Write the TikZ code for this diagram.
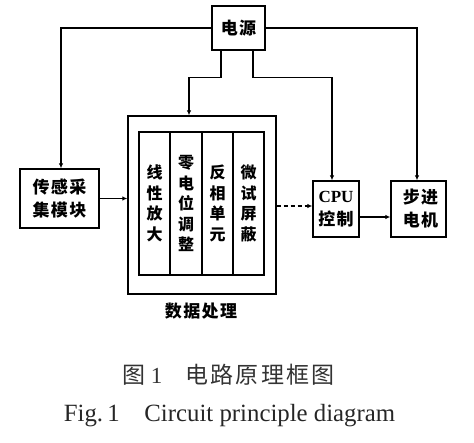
\documentclass[tikz,border=0pt]{standalone}
\usepackage{fontspec}
\setmainfont{Liberation Serif}
\newfontfamily\cjk{Noto Sans CJK SC}
\usetikzlibrary{arrows.meta}
\tikzset{
  blk/.style={draw,line width=1.3pt,inner sep=0pt,
    font=\cjk\bfseries\fontsize{17}{23}\selectfont\addfontfeature{LetterSpace=8},align=center},
  colbox/.style={draw,line width=1.3pt,inner sep=0pt,minimum width=31pt,minimum height=143pt,
    font=\cjk\bfseries\fontsize{16}{20.5}\selectfont,align=center},
  wire/.style={line width=1.3pt,-{Latex[length=5pt,width=4.5pt]}}
}
\begin{document}
\begin{tikzpicture}[x=1pt,y=-1pt]
  \useasboundingbox (0,0) rectangle (474,443);
  % blocks
  \node[blk,minimum width=53pt,minimum height=44pt] (power) at (238.5,28) {电源};
  \node[blk,minimum width=79pt,minimum height=59pt] (sensor) at (59.5,198.5) {传感采\\集模块};
  \node[draw,line width=1.3pt,minimum width=148pt,minimum height=178pt] (proc) at (202,205) {};
  \node[colbox] (amp) at (154.5,203.5) {线\\性\\放\\大};
  \node[colbox,minimum width=32pt] (zero) at (186,203.5) {零\\电\\位\\调\\整};
  \node[colbox] (inv) at (217.5,203.5) {反\\相\\单\\元};
  \node[colbox] (shield) at (248.5,203.5) {微\\试\\屏\\蔽};
  \node[font=\cjk\bfseries\fontsize{17}{19}\selectfont\addfontfeature{LetterSpace=8}] (proclab)
    at (201,311) {数据处理};
  \node[blk,minimum width=46pt,minimum height=56pt] (cpu) at (336,209)
    {{\rmfamily\bfseries CPU}\\控制};
  \node[blk,minimum width=55pt,minimum height=56pt] (motor) at (418.5,209) {\hspace*{4pt}步进\\\hspace*{4pt}电机};
  % connections
  \draw[wire] (power.west) -| ([xshift=1.5pt]sensor.north);
  \draw[wire] (power.east) -| ([xshift=-1.5pt]motor.north);
  \draw[wire] ([xshift=-17.5pt]power.south) -- ++(0,27) -| ([xshift=-13pt]proc.north);
  \draw[wire] ([xshift=14.5pt]power.south) -- ++(0,27) -| ([xshift=-4pt]cpu.north);
  \draw[wire] (sensor.east) -- (sensor.east -| proc.west);
  \draw[wire,dash pattern=on 4pt off 3pt] ([yshift=-1pt]proc.east) -- ([yshift=-1pt]proc.east -| cpu.west);
  \draw[wire] ([yshift=-8pt]cpu.east) -- ([yshift=-8pt]cpu.east -| motor.west);
  % caption
  \node[text=black!80,font=\fontsize{23}{26}\selectfont] (capcn) at (228.5,375)
    {{\cjk 图} 1\quad{\cjk\addfontfeature{LetterSpace=10}电路原理框图}};
  \node[text=black!85,font=\fontsize{24.8}{28}\selectfont] (capen) at (229.5,416)
    {Fig.\,1\quad Circuit principle diagram};
\end{tikzpicture}
\end{document}
